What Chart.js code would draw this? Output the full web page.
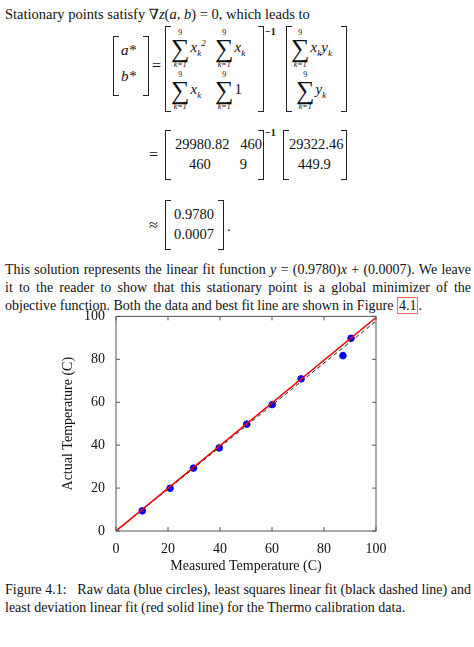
<!DOCTYPE html>
<html>
<head>
<meta charset="utf-8">
<script src="https://cdn.jsdelivr.net/npm/chart.js"></script>
<style>
body { margin:0; width:474px; height:647px; background:#fff; font-family:"Liberation Serif","DejaVu Serif",serif; color:#111; position:relative; overflow:hidden; }
.abs { position:absolute; }
.txt { font-size:14px; line-height:18px; }
.mat { position:absolute; border-left:1.3px solid #222; border-right:1.3px solid #222; }
.mat:before, .mat:after { content:""; position:absolute; top:0; bottom:0; width:5px; border-top:1.3px solid #222; border-bottom:1.3px solid #222; }
.mat:before { left:0; }
.mat:after { right:0; }
.sum { display:inline-block; text-align:center; vertical-align:middle; line-height:10px; margin-right:1px; }
.sum .s { font-size:8px; display:block; font-style:italic; }
.sum .g { font-size:26px; display:block; line-height:22px; font-style:normal; }
.cell { position:absolute; font-size:15px; white-space:nowrap; font-style:italic; }
.num { position:absolute; font-size:14.5px; white-space:nowrap; }
.inv { position:absolute; font-size:10px; font-weight:bold; }
sub, sup { font-size:9px; }
</style>
</head>
<body>
<div class="abs txt" style="left:5px;top:5px;font-size:14.5px;">Stationary points satisfy ∇<i>z</i>(<i>a, b</i>) = 0, which leads to</div>

<div class="mat" style="left:113px;top:36px;width:34px;height:60px;"></div>
<div class="cell" style="left:121px;top:42px;">a*</div>
<div class="cell" style="left:121px;top:68px;">b*</div>
<div class="num" style="left:152px;top:57px;font-size:16px;">=</div>

<div class="mat" style="left:165px;top:26px;width:97px;height:86px;"></div>
<div class="cell" style="left:171px;top:28px;"><span class="sum"><span class="s" style="font-style:normal">9</span><span class="g">∑</span><span class="s">k=1</span></span>x<sub>k</sub><sup>2</sup></div>
<div class="cell" style="left:215px;top:28px;"><span class="sum"><span class="s" style="font-style:normal">9</span><span class="g">∑</span><span class="s">k=1</span></span>x<sub>k</sub></div>
<div class="cell" style="left:171px;top:70px;"><span class="sum"><span class="s" style="font-style:normal">9</span><span class="g">∑</span><span class="s">k=1</span></span>x<sub>k</sub></div>
<div class="cell" style="left:215px;top:70px;"><span class="sum"><span class="s" style="font-style:normal">9</span><span class="g">∑</span><span class="s">k=1</span></span><span style="font-style:normal">1</span></div>
<div class="inv" style="left:265px;top:26px;">−1</div>

<div class="mat" style="left:286px;top:26px;width:59px;height:86px;"></div>
<div class="cell" style="left:291px;top:28px;"><span class="sum"><span class="s" style="font-style:normal">9</span><span class="g">∑</span><span class="s">k=1</span></span>x<sub>k</sub>y<sub>k</sub></div>
<div class="cell" style="left:296px;top:70px;"><span class="sum"><span class="s" style="font-style:normal">9</span><span class="g">∑</span><span class="s">k=1</span></span>y<sub>k</sub></div>

<div class="num" style="left:149px;top:146px;font-size:16px;">=</div>
<div class="mat" style="left:165px;top:130px;width:97px;height:50px;"></div>
<div class="num" style="left:175px;top:136px;">29980.82&nbsp;&nbsp;&nbsp;460</div>
<div class="num" style="left:189px;top:156px;">460&nbsp;&nbsp;&nbsp;&nbsp;&nbsp;&nbsp;&nbsp;&nbsp;9</div>
<div class="inv" style="left:265px;top:127px;">−1</div>
<div class="mat" style="left:283px;top:130px;width:62px;height:50px;"></div>
<div class="num" style="left:289px;top:136px;">29322.46</div>
<div class="num" style="left:298px;top:156px;">449.9</div>

<div class="num" style="left:149px;top:216px;font-size:16px;">≈</div>
<div class="mat" style="left:165px;top:200px;width:57px;height:50px;"></div>
<div class="num" style="left:174px;top:206px;">0.9780</div>
<div class="num" style="left:174px;top:226px;">0.0007</div>
<div class="num" style="left:227px;top:218px;">.</div>

<div class="abs txt" style="left:5px;top:261px;width:466px;text-align:justify;">This solution represents the linear fit function <i>y</i> = (0.9780)<i>x</i> + (0.0007). We leave it to the reader to show that this stationary point is a global minimizer of the objective function. Both the data and best fit line are shown in Figure <span style="border:1px solid #f66;padding:0 1px;">4.1</span>.</div>

<div class="abs" style="left:60px;top:305px;width:330px;height:270px;"><canvas id="myChart"></canvas></div>

<div class="abs txt" style="left:5px;top:581px;width:466px;text-align:justify;">Figure 4.1:&nbsp;&nbsp; Raw data (blue circles), least squares linear fit (black dashed line) and least deviation linear fit (red solid line) for the Thermo calibration data.</div>

<script>
const measured = [10.1, 20.8, 29.8, 39.7, 50.3, 60.1, 71.2, 87.3, 90.4];
const actual = [9.4, 19.9, 29.3, 38.7, 49.8, 58.9, 70.9, 81.7, 89.8];
const fitX = [0, 100];
const lsqFit = [0.0007, 97.8];
const ladFit = [0, 99.5];
const axisTicks = [0, 20, 40, 60, 80, 100];

const framePlugin = {
    id: 'plotFrame',
    afterDatasetsDraw(chart) {
        const a = chart.chartArea, ctx = chart.ctx;
        ctx.save();
        ctx.strokeStyle = '#555';
        ctx.lineWidth = 1;
        ctx.strokeRect(a.left, a.top, a.right - a.left, a.bottom - a.top);
        ctx.beginPath();
        axisTicks.forEach(v => {
            const x = chart.scales.x.getPixelForValue(v);
            const y = chart.scales.y.getPixelForValue(v);
            ctx.moveTo(x, a.bottom); ctx.lineTo(x, a.bottom - 4);
            ctx.moveTo(x, a.top); ctx.lineTo(x, a.top + 4);
            ctx.moveTo(a.left, y); ctx.lineTo(a.left + 4, y);
            ctx.moveTo(a.right, y); ctx.lineTo(a.right - 4, y);
        });
        ctx.stroke();
        ctx.restore();
    }
};

document.addEventListener('DOMContentLoaded', function () {
    const tickFont = {family: '"Liberation Serif", serif', size: 14};
    new Chart("myChart", {
        type: "scatter",
        data: {
            datasets: [{
                data: fitX.map((x, i) => ({x: x, y: ladFit[i]})),
                type: "line", borderColor: "#e00", borderWidth: 1.5, pointRadius: 0, fill: false
            }, {
                data: fitX.map((x, i) => ({x: x, y: lsqFit[i]})),
                type: "line", borderColor: "#222", borderWidth: 1, borderDash: [4, 3], pointRadius: 0, fill: false
            }, {
                data: measured.map((x, i) => ({x: x, y: actual[i]})),
                backgroundColor: "#0000ff", borderColor: "#0000ff", pointRadius: 3.3
            }]
        },
        plugins: [framePlugin],
        options: {
            responsive: true, maintainAspectRatio: false, animation: false,
            layout: {padding: {top: 10, right: 14}},
            plugins: {legend: {display: false}, tooltip: {enabled: false}},
            scales: {
                x: {
                    min: 0, max: 100,
                    afterBuildTicks: s => { s.ticks = axisTicks.map(v => ({value: v})); },
                    afterFit: s => { s.height = 44; },
                    grid: {display: false}, border: {display: false},
                    ticks: {color: '#111', font: tickFont, maxRotation: 0, padding: 2},
                    title: {display: true, text: 'Measured Temperature (C)', color: '#111', font: tickFont, padding: 0}
                },
                y: {
                    min: 0, max: 100,
                    afterBuildTicks: s => { s.ticks = axisTicks.map(v => ({value: v})); },
                    afterFit: s => { s.width = 56; },
                    grid: {display: false}, border: {display: false},
                    ticks: {color: '#111', font: tickFont, padding: 3},
                    title: {display: true, text: 'Actual Temperature (C)', color: '#111', font: tickFont, padding: 0}
                }
            }
        }
    });
});
</script>
</body>
</html>
